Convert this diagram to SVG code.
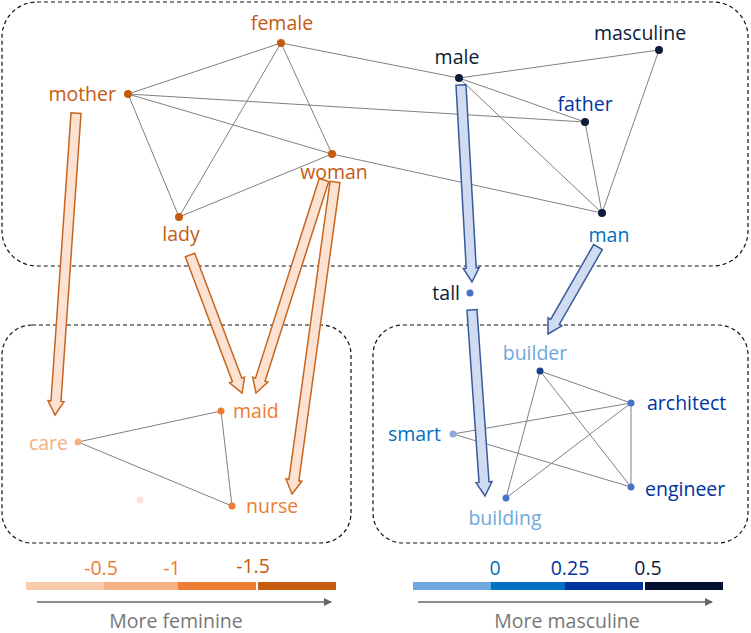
<svg xmlns="http://www.w3.org/2000/svg" width="751" height="633" viewBox="0 0 751 633">
<style>
text{font-family:"Open Sans","Liberation Sans",sans-serif;font-size:19.5px}
.box{fill:none;stroke:#111;stroke-width:1.2;stroke-dasharray:4 3}
.e{stroke:#808080;stroke-width:1;fill:none}
.fa{fill:#fbe2d2;stroke:#c8651e;stroke-width:1.5}
.ma{fill:#d0dcf2;stroke:#3a5a9a;stroke-width:1.5}
.o1{fill:#c55a11}.o2{fill:#ed7d31}.o3{fill:#f4b183}
.b0{fill:#0d1b3a}.b1{fill:#0033a0}.b2{fill:#0070c0}.b3{fill:#6fa8dc}
</style>
<defs>
<marker id="ah" markerWidth="8" markerHeight="8" refX="7" refY="4" orient="auto" markerUnits="userSpaceOnUse"><path d="M0,0 L8,4 L0,8z" fill="#666"/></marker>
</defs>
<rect class="box" x="2" y="2" width="746" height="264" rx="35"/>
<rect class="box" x="2" y="325" width="349" height="218" rx="30"/>
<rect class="box" x="373" y="325" width="375" height="218" rx="30"/>
<g id="connectors">
<line class="e" x1="281" y1="43" x2="128" y2="94"/>
<line class="e" x1="281" y1="43" x2="179" y2="217"/>
<line class="e" x1="281" y1="43" x2="332" y2="154"/>
<line class="e" x1="281" y1="43" x2="459" y2="78"/>
<line class="e" x1="128" y1="94" x2="179" y2="217"/>
<line class="e" x1="128" y1="94" x2="332" y2="154"/>
<line class="e" x1="128" y1="94" x2="585" y2="122"/>
<line class="e" x1="179" y1="217" x2="332" y2="154"/>
<line class="e" x1="332" y1="154" x2="602" y2="213"/>
<line class="e" x1="459" y1="78" x2="659" y2="50"/>
<line class="e" x1="459" y1="78" x2="585" y2="122"/>
<line class="e" x1="459" y1="78" x2="602" y2="213"/>
<line class="e" x1="585" y1="122" x2="602" y2="213"/>
<line class="e" x1="659" y1="50" x2="602" y2="213"/>
<line class="e" x1="221" y1="411" x2="78" y2="442"/>
<line class="e" x1="221" y1="411" x2="232" y2="506"/>
<line class="e" x1="78" y1="442" x2="232" y2="506"/>
<line class="e" x1="540" y1="371" x2="631" y2="403"/>
<line class="e" x1="540" y1="371" x2="506" y2="498"/>
<line class="e" x1="540" y1="371" x2="631" y2="487"/>
<line class="e" x1="453" y1="434" x2="631" y2="403"/>
<line class="e" x1="453" y1="434" x2="631" y2="487"/>
<line class="e" x1="631" y1="403" x2="631" y2="487"/>
<line class="e" x1="506" y1="498" x2="631" y2="403"/>
<polygon class="fa" transform="translate(55,415) rotate(93.98)" points="0,0 -14,-8 -14,-5 -302.7,-5 -302.7,5 -14,5 -14,8"/>
<polygon class="fa" transform="translate(242,393) rotate(69.35)" points="0,0 -14,-8 -14,-5 -147.5,-5 -147.5,5 -14,5 -14,8"/>
<polygon class="fa" transform="translate(256,393) rotate(107.7)" points="0,0 -14,-8 -14,-5 -223.6,-5 -223.6,5 -14,5 -14,8"/>
<polygon class="fa" transform="translate(292,494) rotate(97.85)" points="0,0 -14,-8 -14,-5 -315,-5 -315,5 -14,5 -14,8"/>
<polygon class="ma" transform="translate(472,282) rotate(86.8)" points="0,0 -14,-8 -14,-5 -197.3,-5 -197.3,5 -14,5 -14,8"/>
<polygon class="ma" transform="translate(485,496) rotate(86)" points="0,0 -14,-8 -14,-5 -186.5,-5 -186.5,5 -14,5 -14,8"/>
<polygon class="ma" transform="translate(548,334) rotate(119.9)" points="0,0 -14,-8 -14,-5 -100.3,-5 -100.3,5 -14,5 -14,8"/>
</g>
<g id="female"><circle cx="281" cy="43" r="4" class="o1"/><text x="282" y="30" text-anchor="middle" class="o1">female</text></g>
<g id="mother"><circle cx="128" cy="94" r="4" class="o1"/><text x="116" y="101" text-anchor="end" class="o1">mother</text></g>
<g id="lady"><circle cx="179" cy="217" r="4" class="o1"/><text x="181" y="241" text-anchor="middle" class="o1">lady</text></g>
<g id="woman"><circle cx="332" cy="154" r="4" class="o1"/><text x="334" y="179" text-anchor="middle" class="o1">woman</text></g>
<g id="male"><circle cx="459" cy="78" r="4" class="b0"/><text x="457" y="64" text-anchor="middle" class="b0">male</text></g>
<g id="masculine"><circle cx="659" cy="50" r="4" class="b0"/><text x="640" y="40" text-anchor="middle" class="b0">masculine</text></g>
<g id="father"><circle cx="585" cy="122" r="4" class="b0"/><text x="585" y="111" text-anchor="middle" class="b1">father</text></g>
<g id="man"><circle cx="602" cy="213" r="4" class="b0"/><text x="609" y="242" text-anchor="middle" class="b2">man</text></g>
<g id="tall"><circle cx="470" cy="293" r="3.5" fill="#4472c4"/><text x="460" y="300" text-anchor="end" class="b0">tall</text></g>
<g id="builder"><circle cx="540" cy="371" r="3.5" fill="#1f3f8a"/><text x="535" y="360" text-anchor="middle" class="b3">builder</text></g>
<g id="architect"><circle cx="631" cy="403" r="3.5" fill="#4472c4"/><text x="647" y="410" class="b1">architect</text></g>
<g id="smart"><circle cx="453" cy="434" r="3.5" fill="#8faadc"/><text x="441" y="441" text-anchor="end" class="b2">smart</text></g>
<g id="engineer"><circle cx="631" cy="487" r="3.5" fill="#4472c4"/><text x="645" y="496" class="b1">engineer</text></g>
<g id="building"><circle cx="506" cy="498" r="3.5" fill="#4472c4"/><text x="505" y="525" text-anchor="middle" class="b3">building</text></g>
<g id="maid"><circle cx="221" cy="411" r="3.5" class="o2"/><text x="233" y="418" class="o2">maid</text></g>
<g id="care"><circle cx="78" cy="442" r="3.5" class="o3"/><text x="68" y="450" text-anchor="end" class="o3">care</text></g>
<g id="nurse"><circle cx="232" cy="506" r="3.5" class="o2"/><text x="246" y="513" class="o2">nurse</text></g>
<circle cx="140" cy="500" r="3.5" fill="#fbe2d2"/>
<g id="legend-feminine">
<rect x="26" y="582" width="78" height="8" fill="#f8cbad"/>
<rect x="104" y="582" width="74" height="8" fill="#f4b183"/>
<rect x="178" y="582" width="78" height="8" fill="#ed7d31"/>
<rect x="258" y="582" width="78" height="8" fill="#c55a11"/>
<text x="101" y="575" text-anchor="middle" class="o2">-0.5</text>
<text x="172" y="575" text-anchor="middle" class="o2">-1</text>
<text x="253" y="573" text-anchor="middle" class="o1">-1.5</text>
<line x1="37" y1="602" x2="331" y2="602" stroke="#666" stroke-width="1.5" marker-end="url(#ah)"/>
<text x="176" y="628" text-anchor="middle" fill="#777">More feminine</text>
</g>
<g id="legend-masculine">
<rect x="413" y="582" width="78" height="8" fill="#6fa8e0"/>
<rect x="491" y="582" width="74" height="8" fill="#0070c0"/>
<rect x="565" y="582" width="78" height="8" fill="#0033a0"/>
<rect x="645" y="582" width="78" height="8" fill="#00102e"/>
<text x="495" y="575" text-anchor="middle" class="b2">0</text>
<text x="570" y="575" text-anchor="middle" class="b1">0.25</text>
<text x="648" y="575" text-anchor="middle" class="b0">0.5</text>
<line x1="418" y1="602" x2="712" y2="602" stroke="#666" stroke-width="1.5" marker-end="url(#ah)"/>
<text x="567" y="628" text-anchor="middle" fill="#777">More masculine</text>
</g>
</svg>
